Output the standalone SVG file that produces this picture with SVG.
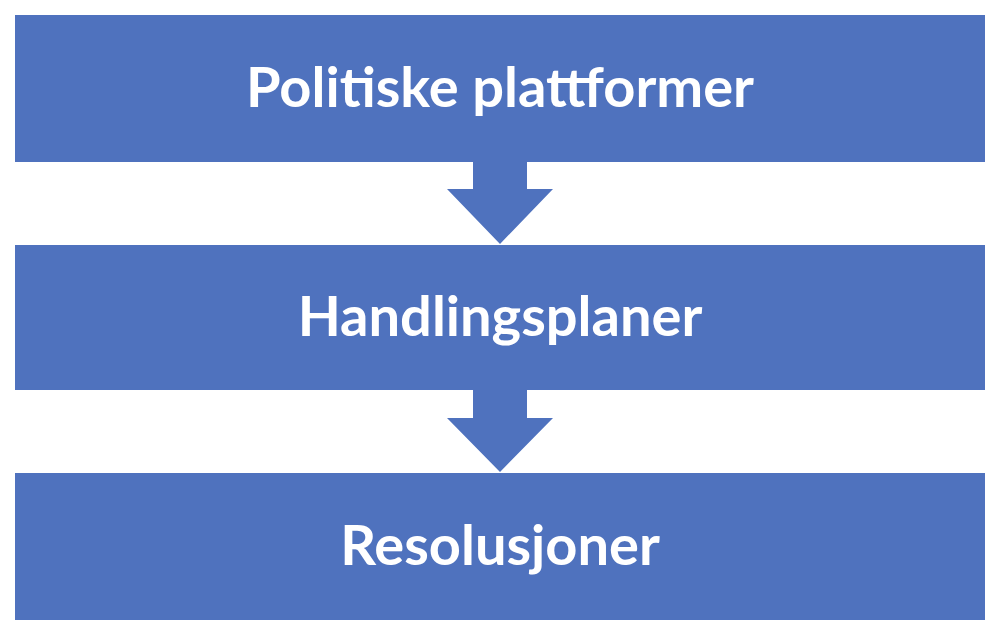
<svg xmlns="http://www.w3.org/2000/svg" width="1000" height="640" viewBox="0 0 1000 640">
<style>
.box{fill:#4F72BE}
.arr{fill:#4F72BE}
.t{fill:#fff;font-family:Lato,"Liberation Sans",sans-serif;font-weight:bold;font-size:56px;text-anchor:middle}
</style>
<rect width="1000" height="640" fill="#fff"/>
<g id="connectors">
<polygon class="arr" points="473,160 527,160 527,189 553,189 500,244 447,189 473,189"/>
<polygon class="arr" points="473,388 527,388 527,418 553,418 500,472 447,418 473,418"/>
</g>
<g id="n1"><rect class="box" x="15" y="15" width="970" height="147"/><text class="t" x="500" y="107">Politiske plattformer</text></g>
<g id="n2"><rect class="box" x="15" y="245" width="970" height="145"/><text class="t" x="500" y="336">Handlingsplaner</text></g>
<g id="n3"><rect class="box" x="15" y="473" width="970" height="147"/><text class="t" x="500" y="565">Resolusjoner</text></g>
</svg>
